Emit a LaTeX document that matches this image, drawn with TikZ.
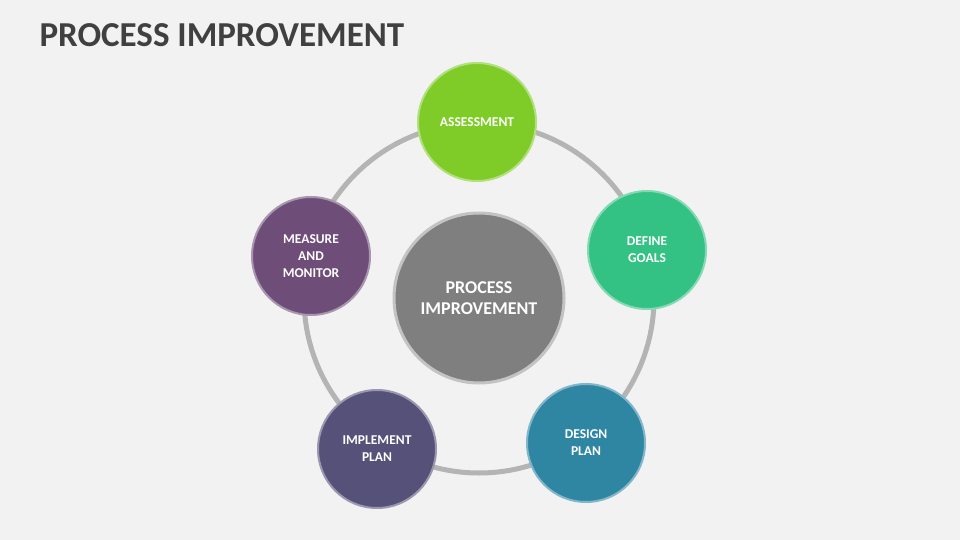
\documentclass[tikz,border=0pt]{standalone}
\usepackage{fontspec}
\setmainfont{Carlito}
\definecolor{bg}{HTML}{F2F2F2}
\definecolor{ringc}{HTML}{B4B4B4}
\definecolor{titlec}{HTML}{404040}
\definecolor{cA}{HTML}{7FCC28}
\definecolor{cB}{HTML}{34C184}
\definecolor{cC}{HTML}{2E86A3}
\definecolor{cD}{HTML}{565179}
\definecolor{cE}{HTML}{6E4E78}
\definecolor{cM}{HTML}{7F7F7F}
\begin{document}
\begin{tikzpicture}[x=1pt,y=-1pt,
  stage/.style={circle,minimum size=118pt,inner sep=0pt,text=white,font=\bfseries\fontsize{13.5}{17}\selectfont,align=center,line width=2pt},
]
\fill[bg] (0,0) rectangle (960,540);
\useasboundingbox (0,0) rectangle (960,540);
\node[anchor=west,text=titlec,font=\bfseries\fontsize{35}{40}\selectfont] (title) at (36,35) {PROCESS IMPROVEMENT};
\coordinate (c) at (479,298);
\draw[ringc,line width=5pt] (c) circle[radius=175];
\node[circle,minimum size=170pt,inner sep=0pt,fill=cM,draw=ringc!80!white,line width=3pt,text=white,font=\bfseries\fontsize{18}{21}\selectfont,align=center] (center) at (c) {PROCESS\\IMPROVEMENT};
\node[stage,fill=cA,draw=cA!60!white] (a) at (477,122) {ASSESSMENT};
\node[stage,fill=cB,draw=cB!60!white] (b) at (647,250) {DEFINE\\GOALS};
\node[stage,fill=cC,draw=cC!60!white] (d) at (586,443) {DESIGN\\PLAN};
\node[stage,fill=cD,draw=cD!60!white] (e) at (377,449) {IMPLEMENT\\PLAN};
\node[stage,fill=cE,draw=cE!60!white] (f) at (311,256) {MEASURE\\AND\\MONITOR};
\end{tikzpicture}
\end{document}
